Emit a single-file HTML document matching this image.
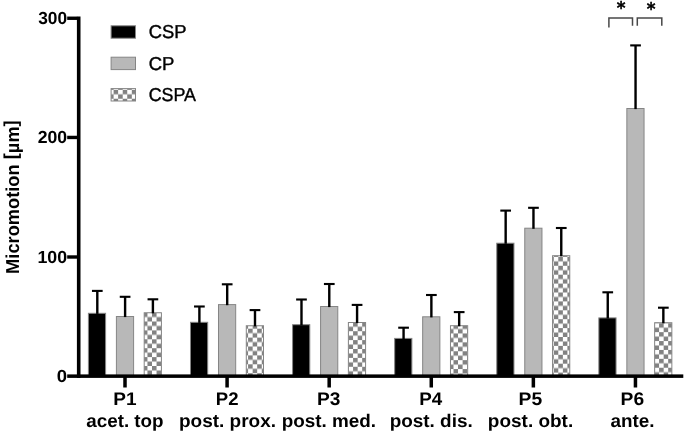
<!DOCTYPE html>
<html lang="en"><head><meta charset="utf-8"><title>Micromotion chart</title>
<style>html,body{margin:0;padding:0;background:#fff;overflow:hidden}svg{display:block}text{font-family:"Liberation Sans",sans-serif;fill:#000;text-rendering:geometricPrecision}.b{font-weight:bold}</style></head><body>
<svg width="685" height="432" viewBox="0 0 685 432">
<defs><pattern id="chk" width="9.1" height="8.9" patternUnits="userSpaceOnUse"><rect width="9.1" height="8.9" fill="#fff"/><rect width="4.55" height="4.45" fill="#828282"/><rect x="4.55" y="4.45" width="4.55" height="4.45" fill="#828282"/></pattern></defs>
<rect width="685" height="432" fill="#fff"/>
<rect x="88.40" y="313.30" width="17.2" height="62.85" fill="#000" stroke="#858585" stroke-width="1"/>
<rect x="96.10" y="290.90" width="2.4" height="23.00" fill="#000"/>
<rect x="91.95" y="289.85" width="10.7" height="2.1" fill="#000"/>
<rect x="116.40" y="316.50" width="17.2" height="59.65" fill="#b8b8b8" stroke="#858585" stroke-width="1"/>
<rect x="123.90" y="296.80" width="2.4" height="20.30" fill="#000"/>
<rect x="119.75" y="295.75" width="10.7" height="2.1" fill="#000"/>
<g transform="translate(152.00,312.60)"><rect x="-7.80" y="0.15" width="17.2" height="63.40" fill="url(#chk)" stroke="#858585" stroke-width="1"/></g>
<rect x="151.70" y="299.30" width="2.4" height="14.05" fill="#000"/>
<rect x="147.55" y="298.25" width="10.7" height="2.1" fill="#000"/>
<rect x="190.49" y="322.30" width="17.2" height="53.85" fill="#000" stroke="#858585" stroke-width="1"/>
<rect x="198.19" y="306.50" width="2.4" height="16.40" fill="#000"/>
<rect x="194.04" y="305.45" width="10.7" height="2.1" fill="#000"/>
<rect x="218.49" y="304.60" width="17.2" height="71.55" fill="#b8b8b8" stroke="#858585" stroke-width="1"/>
<rect x="225.99" y="284.30" width="2.4" height="20.90" fill="#000"/>
<rect x="221.84" y="283.25" width="10.7" height="2.1" fill="#000"/>
<g transform="translate(248.10,328.70)"><rect x="-1.81" y="-2.95" width="17.2" height="50.40" fill="url(#chk)" stroke="#858585" stroke-width="1"/></g>
<rect x="253.79" y="310.10" width="2.4" height="16.25" fill="#000"/>
<rect x="249.64" y="309.05" width="10.7" height="2.1" fill="#000"/>
<rect x="292.58" y="324.70" width="17.2" height="51.45" fill="#000" stroke="#858585" stroke-width="1"/>
<rect x="300.28" y="299.50" width="2.4" height="25.80" fill="#000"/>
<rect x="296.13" y="298.45" width="10.7" height="2.1" fill="#000"/>
<rect x="320.58" y="306.50" width="17.2" height="69.65" fill="#b8b8b8" stroke="#858585" stroke-width="1"/>
<rect x="328.08" y="284.00" width="2.4" height="23.10" fill="#000"/>
<rect x="323.93" y="282.95" width="10.7" height="2.1" fill="#000"/>
<g transform="translate(353.10,322.30)"><rect x="-4.72" y="0.20" width="17.2" height="53.65" fill="url(#chk)" stroke="#858585" stroke-width="1"/></g>
<rect x="355.88" y="304.90" width="2.4" height="18.20" fill="#000"/>
<rect x="351.73" y="303.85" width="10.7" height="2.1" fill="#000"/>
<rect x="394.67" y="338.40" width="17.2" height="37.75" fill="#000" stroke="#858585" stroke-width="1"/>
<rect x="402.37" y="327.70" width="2.4" height="11.30" fill="#000"/>
<rect x="398.22" y="326.65" width="10.7" height="2.1" fill="#000"/>
<rect x="422.67" y="316.80" width="17.2" height="59.35" fill="#b8b8b8" stroke="#858585" stroke-width="1"/>
<rect x="430.17" y="295.00" width="2.4" height="22.40" fill="#000"/>
<rect x="426.02" y="293.95" width="10.7" height="2.1" fill="#000"/>
<g transform="translate(453.50,324.55)"><rect x="-3.03" y="1.15" width="17.2" height="50.45" fill="url(#chk)" stroke="#858585" stroke-width="1"/></g>
<rect x="457.97" y="312.10" width="2.4" height="14.20" fill="#000"/>
<rect x="453.82" y="311.05" width="10.7" height="2.1" fill="#000"/>
<rect x="496.76" y="243.20" width="17.2" height="132.95" fill="#000" stroke="#858585" stroke-width="1"/>
<rect x="504.46" y="210.60" width="2.4" height="33.20" fill="#000"/>
<rect x="500.31" y="209.55" width="10.7" height="2.1" fill="#000"/>
<rect x="524.76" y="228.20" width="17.2" height="147.95" fill="#b8b8b8" stroke="#858585" stroke-width="1"/>
<rect x="532.26" y="207.80" width="2.4" height="21.00" fill="#000"/>
<rect x="528.11" y="206.75" width="10.7" height="2.1" fill="#000"/>
<g transform="translate(558.30,256.90)"><rect x="-5.74" y="-1.20" width="17.2" height="120.45" fill="url(#chk)" stroke="#858585" stroke-width="1"/></g>
<rect x="560.06" y="228.00" width="2.4" height="28.30" fill="#000"/>
<rect x="555.91" y="226.95" width="10.7" height="2.1" fill="#000"/>
<rect x="598.85" y="317.90" width="17.2" height="58.25" fill="#000" stroke="#858585" stroke-width="1"/>
<rect x="606.55" y="292.30" width="2.4" height="26.20" fill="#000"/>
<rect x="602.40" y="291.25" width="10.7" height="2.1" fill="#000"/>
<rect x="626.85" y="108.50" width="17.2" height="267.65" fill="#b8b8b8" stroke="#858585" stroke-width="1"/>
<rect x="634.35" y="45.40" width="2.4" height="63.70" fill="#000"/>
<rect x="630.20" y="44.35" width="10.7" height="2.1" fill="#000"/>
<g transform="translate(659.10,323.25)"><rect x="-4.45" y="-0.55" width="17.2" height="53.45" fill="url(#chk)" stroke="#858585" stroke-width="1"/></g>
<rect x="662.15" y="307.70" width="2.4" height="15.60" fill="#000"/>
<rect x="658.00" y="306.65" width="10.7" height="2.1" fill="#000"/>
<rect x="76.9" y="16.5" width="3.6" height="361.4" fill="#000"/>
<rect x="67.2" y="374.4" width="616.1" height="3.5" fill="#000"/>
<rect x="67.2" y="16.55" width="10" height="3.4" fill="#000"/>
<rect x="67.2" y="135.75" width="10" height="3.4" fill="#000"/>
<rect x="67.2" y="255.30" width="10" height="3.4" fill="#000"/>
<text class="b" transform="translate(38.17,24.00) scale(0.9906,1)" font-size="17.5">300</text>
<text class="b" transform="translate(37.67,143.00) scale(1.0081,1)" font-size="17.5">200</text>
<text class="b" transform="translate(37.46,263.00) scale(1.0155,1)" font-size="17.5">100</text>
<text class="b" transform="translate(56.87,382.00) scale(1.0586,1)" font-size="17.5">0</text>
<rect x="123.25" y="376" width="3.5" height="11.5" fill="#000"/>
<text class="b" transform="translate(113.30,405.00) scale(1.0400,1)" font-size="18.3">P1</text>
<text class="b" transform="translate(86.22,427.00) scale(1.0297,1)" font-size="18.3">acet. top</text>
<rect x="225.34" y="376" width="3.5" height="11.5" fill="#000"/>
<text class="b" transform="translate(215.83,405.00) scale(1.0160,1)" font-size="18.3">P2</text>
<text class="b" transform="translate(178.97,427.00) scale(1.0381,1)" font-size="18.3">post. prox.</text>
<rect x="327.43" y="376" width="3.5" height="11.5" fill="#000"/>
<text class="b" transform="translate(317.09,405.00) scale(1.0471,1)" font-size="18.3">P3</text>
<text class="b" transform="translate(281.67,427.00) scale(1.0323,1)" font-size="18.3">post. med.</text>
<rect x="429.52" y="376" width="3.5" height="11.5" fill="#000"/>
<text class="b" transform="translate(419.31,405.00) scale(1.0286,1)" font-size="18.3">P4</text>
<text class="b" transform="translate(389.67,427.00) scale(1.0350,1)" font-size="18.3">post. dis.</text>
<rect x="531.61" y="376" width="3.5" height="11.5" fill="#000"/>
<text class="b" transform="translate(518.58,405.00) scale(1.0570,1)" font-size="18.3">P5</text>
<text class="b" transform="translate(487.87,427.00) scale(1.0371,1)" font-size="18.3">post. obt.</text>
<rect x="633.70" y="376" width="3.5" height="11.5" fill="#000"/>
<text class="b" transform="translate(620.59,405.00) scale(1.0520,1)" font-size="18.3">P6</text>
<text class="b" transform="translate(610.42,427.00) scale(1.0308,1)" font-size="18.3">ante.</text>
<text class="b" transform="translate(18.55,197.1) rotate(-90) scale(1,1.025)" font-size="18.27" text-anchor="middle">Micromotion <tspan dy="-1.9">[</tspan><tspan dy="1.9">µm</tspan><tspan dy="-1.9">]</tspan></text>
<rect x="111.1" y="25.80" width="24.4" height="12.4" fill="#000" stroke="#858585" stroke-width="1"/>
<text stroke="#000" stroke-width="0.4" transform="translate(148.67,37.95) scale(0.9897,1)" font-size="18.6">CSP</text>
<rect x="111.1" y="57.20" width="24.4" height="12.4" fill="#b8b8b8" stroke="#858585" stroke-width="1"/>
<text stroke="#000" stroke-width="0.4" transform="translate(148.67,69.55) scale(0.9943,1)" font-size="18.6">CP</text>
<g transform="translate(113.6,89.85)"><rect x="-2.50" y="-1.25" width="24.4" height="12.4" fill="url(#chk)" stroke="#858585" stroke-width="1"/></g>
<text stroke="#000" stroke-width="0.4" transform="translate(148.70,101.10) scale(0.9608,1)" font-size="18.6">CSPA</text>
<g fill="none" stroke="#484848" stroke-width="1.5">
<path d="M608.9 27.6V18.1H632.5V25.8"/>
<path d="M637.3 25.8V18.1H661.8V25.8"/>
</g>
<text class="b" transform="translate(616.7,14.1) scale(0.95,1)" font-size="17.6" stroke="#000" stroke-width="0.45" style="font-family:'DejaVu Sans','Liberation Sans',sans-serif">*</text>
<text class="b" transform="translate(646.7,15.0) scale(0.95,1)" font-size="17.6" stroke="#000" stroke-width="0.45" style="font-family:'DejaVu Sans','Liberation Sans',sans-serif">*</text>
</svg></body></html>
